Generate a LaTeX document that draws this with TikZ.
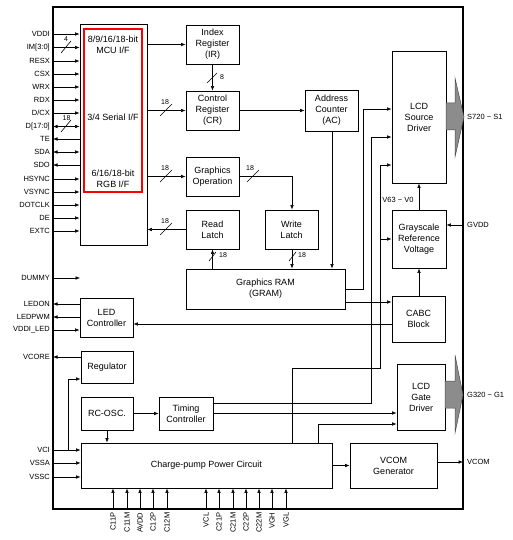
\documentclass[tikz,border=0pt]{standalone}
\usepackage{fontspec}
\setmainfont{Liberation Sans}
\usetikzlibrary{arrows.meta}
\begin{document}
\begin{tikzpicture}[x=1pt,y=-1pt,
  >={Latex[length=4.5pt,width=3.6pt]},
  blk/.style={draw, line width=0.9pt, fill=white, align=center, inner sep=0pt, font=\fontsize{9}{11}\selectfont},
  con/.style={line width=0.6pt},
  pinlab/.style={font=\fontsize{7.5}{9}\selectfont, inner sep=0pt},
  sl/.style={line width=0.6pt},
  sllab/.style={font=\fontsize{7}{8}\selectfont, inner sep=0pt},
  pinin/.style={->},
  pinout/.style={<-},
  pinbi/.style={<->},
  bigarrow/.style={fill=black!45, draw=black!70, line width=0.5pt},
]
\useasboundingbox (0,0) rectangle (513,540);
\fill[white] (0,0) rectangle (513,540);

% outer chip boundary
\draw[line width=1.8pt] (53,7) rectangle (463,509);

% interface block
\node[blk, minimum width=67pt, minimum height=221pt] (iface) at (113.5,134.5) {};
\draw[red, line width=1.4pt] (84,29) rectangle (142,192);
\node[font=\fontsize{9}{11}\selectfont, align=center] (mcu) at (113,45) {8/9/16/18-bit\\MCU I/F};
\node[font=\fontsize{9}{11}\selectfont] (ser) at (113,117) {3/4 Serial I/F};
\node[font=\fontsize{9}{11}\selectfont, align=center] (rgb) at (113,179) {6/16/18-bit\\RGB I/F};

% blocks
\node[blk, minimum width=53pt, minimum height=39pt] (IR) at (212.5,44.5) {Index\\Register\\(IR)};
\node[blk, minimum width=53pt, minimum height=39pt] (CR) at (212.5,110.5) {Control\\Register\\(CR)};
\node[blk, minimum width=53pt, minimum height=41pt] (AC) at (331.5,110.5) {Address\\Counter\\(AC)};
\node[blk, minimum width=53pt, minimum height=39pt] (GO) at (212.5,176.5) {Graphics\\Operation};
\node[blk, minimum width=53pt, minimum height=39pt] (RL) at (212.5,229.5) {Read\\Latch};
\node[blk, minimum width=53pt, minimum height=39pt] (WL) at (291.5,229.5) {Write\\Latch};
\node[blk, minimum width=159pt, minimum height=40pt] (GRAM) at (265.5,289) {Graphics RAM\\(GRAM)};
\node[blk, minimum width=54pt, minimum height=132pt] (SD) at (419,117) {LCD\\Source\\Driver};
\node[blk, minimum width=54pt, minimum height=58pt] (GRV) at (419,239) {Grayscale\\Reference\\Voltage};
\node[blk, minimum width=53pt, minimum height=46pt] (CABC) at (418.5,319) {CABC\\Block};
\node[blk, minimum width=53pt, minimum height=39pt] (LED) at (106.5,317.5) {LED\\Controller};
\node[blk, minimum width=52pt, minimum height=32pt] (REG) at (107,367) {Regulator};
\node[blk, minimum width=52pt, minimum height=33pt] (RCO) at (107,413.5) {RC-OSC.};
\node[blk, minimum width=54pt, minimum height=33pt] (TC) at (186,413.5) {Timing\\Controller};
\node[blk, minimum width=251pt, minimum height=45pt] (CP) at (206.5,465.5) {Charge-pump Power Circuit};
\node[blk, minimum width=87pt, minimum height=45pt] (VG) at (393.5,465.5) {VCOM\\Generator};
\node[blk, minimum width=48pt, minimum height=66pt] (GD) at (421,397) {LCD\\Gate\\Driver};

% big output arrows
\draw[bigarrow] (446,103) -- (455,103) -- (455,78) -- (464,117) -- (455,157) -- (455,130) -- (446,130) -- cycle;
\draw[bigarrow] (445,381) -- (455,381) -- (455,355) -- (463,395) -- (455,433) -- (455,408) -- (445,408) -- cycle;
\node[pinlab, anchor=west] (s720) at (467,117) {S720 \textasciitilde{} S1};
\node[pinlab, anchor=west] (g320) at (467,395) {G320 \textasciitilde{} G1};

% left pins (top group)
\foreach \ay/\lb/\st [count=\i] in {34/VDDI/pinin, 47.5/{IM[3:0]}/pinin, 61/RESX/pinin, 74/CSX/pinin,
  87/WRX/pinin, 100/RDX/pinin, 113/D\slash CX/pinin, 126.5/{D[17:0]}/pinbi, 139/TE/pinout,
  152/SDA/pinbi, 165/SDO/pinout, 179/HSYNC/pinin, 192/VSYNC/pinin, 205/DOTCLK/pinin,
  218/DE/pinin, 231/EXTC/pinin} {
  \coordinate (lp\i) at (53,\ay);
  \node[pinlab, anchor=east] (lpl\i) at (50,\ay) {\lb};
  \draw[con,\st] (lp\i) -- (lp\i -| iface.west);
}
\draw[sl] (61,53) -- (71,41);
\node[sllab] (n4) at (66,39) {4};
\draw[sl] (61,132) -- (71,120);
\node[sllab] (n18a) at (66.5,118) {18};

% left pins (lower group)
\coordinate (pdummy) at (53,278);
\coordinate (edummy) at (80,278);
\node[pinlab, anchor=east] (ldummy) at (50,278) {DUMMY};
\draw[con,->] (pdummy) -- (edummy);

\coordinate (pledon) at (53,304);
\node[pinlab, anchor=east] (lledon) at (50,304) {LEDON};
\draw[con,->] (pledon -| LED.west) -- (pledon);
\coordinate (pledpwm) at (53,317);
\node[pinlab, anchor=east] (lledpwm) at (50,317) {LEDPWM};
\draw[con,->] (pledpwm -| LED.west) -- (pledpwm);
\coordinate (pvddiled) at (53,330);
\node[pinlab, anchor=east] (lvddiled) at (50,330) {VDDI\_LED};
\draw[con,->] (pvddiled) -- (pvddiled -| LED.west);

\coordinate (pvcore) at (53,357);
\node[pinlab, anchor=east] (lvcore) at (50,357) {VCORE};
\draw[con,->] (pvcore -| REG.west) -- (pvcore);

\coordinate (pvci) at (53,450);
\node[pinlab, anchor=east] (lvci) at (50,450) {VCI};
\draw[con,->] (pvci) -- (pvci -| CP.west);
\coordinate (pvssa) at (53,463);
\node[pinlab, anchor=east] (lvssa) at (50,463) {VSSA};
\draw[con,->] (pvssa) -- (pvssa -| CP.west);
\coordinate (pvssc) at (53,477);
\node[pinlab, anchor=east] (lvssc) at (50,477) {VSSC};
\draw[con,->] (pvssc) -- (pvssc -| CP.west);
\draw[con,->] (68,450) -- (68,379) -- (REG.west |- 0,379);

% right pins
\coordinate (pgvdd) at (463,225);
\node[pinlab, anchor=west] (lgvdd) at (467,225) {GVDD};
\draw[con,->] (pgvdd) -- (pgvdd -| GRV.east);
\coordinate (pvcom) at (463,462);
\node[pinlab, anchor=west] (lvcom) at (467,462) {VCOM};
\draw[con,->] (pvcom -| VG.east) -- (pvcom);

% internal connections
\draw[con,->] (iface.east |- IR.west) -- (IR.west);
\draw[con,->] (iface.east |- CR.west) -- (CR.west);
\draw[sl] (160,116) -- (172,104);
\node[sllab] (n18b) at (165,102) {18};
\draw[con,->] (IR.south) -- (CR.north);
\draw[sl] (207,83) -- (217,73);
\node[sllab, anchor=west] (n8) at (220,77) {8};
\draw[con,->] (CR.east) -- (CR.east -| AC.west);
\draw[con,->] (AC.south -| 332,0) -- (332,0 |- GRAM.north);

\draw[con,->] (iface.east |- GO.west) -- (GO.west);
\draw[sl] (160,182) -- (172,170);
\node[sllab] (n18c) at (165,168) {18};
\draw[con,->] (GO.east) -- (292,176.5) -- (292,0 |- WL.north);
\draw[sl] (247,182) -- (259,170);
\node[sllab] (n18d) at (250,168) {18};
\draw[con,->] (292,0 |- WL.south) -- (292,0 |- GRAM.north);
\draw[sl] (289,261) -- (296,252);
\node[sllab, anchor=west] (n18e) at (298,255) {18};
\draw[con,->] (212.5,0 |- GRAM.north) -- (RL.south);
\draw[sl] (209,261) -- (216,252);
\node[sllab, anchor=west] (n18f) at (219,255) {18};
\draw[con,->] (RL.west) -- (RL.west -| iface.east);
\draw[sl] (160,235) -- (172,223);
\node[sllab] (n18g) at (165,221) {18};

\draw[con,->] (GRAM.east |- 0,289) -- (363,289) -- (363,109) -- (SD.west |- 0,109);
\draw[con,->] (GRAM.east |- 0,302) -- (CABC.west |- 0,302);
\draw[con,->] (CABC.west |- 0,324) -- (LED.east |- 0,324);
\draw[con,->] (CABC.north -| 419,0) -- (419,0 |- GRV.south);
\draw[con,->] (GRV.north) -- (SD.south);
\node[pinlab] (v63) at (398,200) {V63 \textasciitilde{} V0};

\draw[con,->] (TC.east |- 0,403) -- (371,403) -- (371,137) -- (SD.west |- 0,137);
\draw[con,->] (TC.east |- 0,413) -- (GD.west |- 0,413);
\draw[con,->] (292,0 |- CP.north) -- (292,368) -- (380,368) -- (380,165) -- (SD.west |- 0,165);
\draw[con,->] (380,239) -- (GRV.west);
\draw[con,->] (318,0 |- CP.north) -- (318,424) -- (GD.west |- 0,424);
\draw[con,->] (CP.east) -- (VG.west);
\draw[con,->] (RCO.east) -- (TC.west);
\draw[con,->] (RCO.south) -- (RCO.south |- CP.north);

% bottom pins
\foreach \bx/\lb [count=\j] in {113/C11P, 127/C11M, 140/AVDD, 153/C12P, 167/C12M,
  206/VCL, 219/C21P, 233/C21M, 246/C22P, 259/C22M, 272/VGH, 286/VGL} {
  \coordinate (bp\j) at (\bx,509);
  \node[pinlab, rotate=90, anchor=east] (bpl\j) at (\bx,512.5) {\lb};
  \draw[con,->] (bp\j) -- (bp\j |- CP.south);
}
\end{tikzpicture}
\end{document}
